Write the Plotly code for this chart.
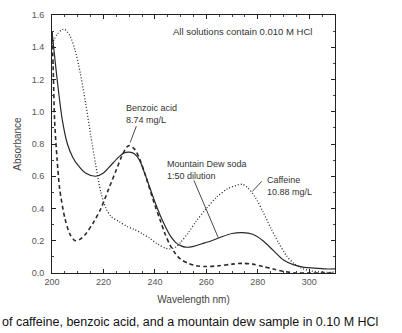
import plotly.graph_objects as go

# Wavelength (nm) / absorbance
md_wl = [200, 202, 204, 206, 208, 210, 213, 217, 220, 223, 226, 228, 230, 232, 234, 236, 238, 240, 242, 244, 246, 248, 250, 252, 255, 258, 262, 266, 270, 274, 278, 282, 286, 290, 294, 298, 302, 306, 310]
md_abs = [1.50, 1.20, 0.95, 0.80, 0.72, 0.67, 0.62, 0.60, 0.62, 0.67, 0.72, 0.745, 0.75, 0.74, 0.70, 0.62, 0.53, 0.44, 0.36, 0.29, 0.23, 0.19, 0.17, 0.16, 0.165, 0.18, 0.20, 0.225, 0.245, 0.25, 0.24, 0.20, 0.14, 0.08, 0.05, 0.035, 0.03, 0.025, 0.025]

caf_wl = [200, 202, 204, 205, 207, 209, 211, 213, 215, 217, 219, 221, 223, 226, 229, 232, 235, 238, 241, 244, 246, 248, 250, 253, 256, 260, 264, 268, 272, 274, 276, 279, 282, 285, 288, 291, 294, 297, 300, 305, 310]
caf_abs = [1.42, 1.48, 1.51, 1.51, 1.47, 1.38, 1.24, 1.06, 0.86, 0.67, 0.50, 0.40, 0.35, 0.32, 0.29, 0.27, 0.245, 0.215, 0.18, 0.155, 0.15, 0.16, 0.19, 0.25, 0.32, 0.40, 0.47, 0.52, 0.545, 0.55, 0.53, 0.47, 0.38, 0.28, 0.19, 0.11, 0.06, 0.03, 0.015, 0.005, 0.005]

bz_wl = [200, 200.5, 201, 202, 203, 205, 207, 209, 211, 213, 216, 219, 222, 225, 227, 229, 230, 232, 234, 236, 238, 240, 242, 244, 246, 248, 250, 253, 256, 260, 265, 270, 274, 278, 282, 286, 290, 295, 300, 310]
bz_abs = [1.50, 1.25, 0.95, 0.70, 0.52, 0.34, 0.24, 0.20, 0.21, 0.24, 0.31, 0.40, 0.52, 0.64, 0.72, 0.78, 0.79, 0.77, 0.71, 0.62, 0.52, 0.42, 0.33, 0.24, 0.17, 0.12, 0.085, 0.06, 0.045, 0.04, 0.045, 0.055, 0.06, 0.055, 0.04, 0.025, 0.01, 0.0, 0.0, 0.0]

x_ticks = [200, 220, 240, 260, 280, 300]
y_ticks = [0.0, 0.2, 0.4, 0.6, 0.8, 1.0, 1.2, 1.4, 1.6]
y_tick_text = ["0.0", "0.2", "0.4", "0.6", "0.8", "1.0", "1.2", "1.4", "1.6"]

FONT = "Liberation Sans, Arial, sans-serif"
LINE = "#2a2a2a"

fig = go.Figure()
fig.add_trace(go.Scatter(x=md_wl, y=md_abs, mode="lines",
                         line=dict(color=LINE, width=1.2, shape="spline", smoothing=0.8)))
fig.add_trace(go.Scatter(x=caf_wl, y=caf_abs, mode="lines",
                         line=dict(color=LINE, width=1.3, dash="1px,2px", shape="spline", smoothing=0.8)))
fig.add_trace(go.Scatter(x=bz_wl, y=bz_abs, mode="lines",
                         line=dict(color=LINE, width=1.6, dash="4px,3px", shape="spline", smoothing=0.8)))

txt = dict(family=FONT, size=9, color="#333")
anns = [
    dict(x=246.3, y=1.50, text="All solutions contain 0.010 M HCl", size=9.5),
    dict(x=228, y=0.985, text="Benzoic acid<br>8.74 mg/L", size=9),
    dict(x=244, y=0.64, text="Mountain Dew soda<br>1:50 dilution", size=9),
    dict(x=282.9, y=0.54, text="Caffeine<br>10.88 mg/L", size=9),
]
for a in anns:
    fig.add_annotation(x=a["x"], y=a["y"], text=a["text"], xref="x", yref="y",
                       xanchor="left", yanchor="middle", align="left",
                       showarrow=False, font=dict(family=FONT, size=a["size"], color="#333"))

# pointer lines
ptrs = [((233.0, 0.92), (230.4, 0.81)),
        ((254.9, 0.584), (264.6, 0.22)),
        ((282.1, 0.578), (277.8, 0.505))]
for (x0, y0), (x1, y1) in ptrs:
    fig.add_annotation(x=x1, y=y1, ax=x0, ay=y0, xref="x", yref="y", axref="x", ayref="y",
                       showarrow=True, arrowhead=0, arrowwidth=0.9, arrowcolor="#333", text="")

fig.add_annotation(x=-0.185, y=-0.19, xref="paper", yref="paper", xanchor="left", yanchor="middle",
                   text="of caffeine, benzoic acid, and a mountain dew sample in 0.10 M HCl",
                   showarrow=False, font=dict(family=FONT, size=12.5, color="#111"))

axis_common = dict(showgrid=False, zeroline=False, showline=True, linecolor="#222", linewidth=1,
                   mirror="allticks", ticks="inside", ticklen=4, tickcolor="#222",
                   tickfont=dict(family=FONT, size=9, color="#555"))
fig.update_xaxes(range=[200, 310], tickvals=x_ticks,
                 minor=dict(ticks="inside", ticklen=2, dtick=5, tickcolor="#444"),
                 title=dict(text="Wavelength nm)", font=dict(family=FONT, size=10, color="#444"), standoff=10),
                 **axis_common)
fig.update_yaxes(range=[0, 1.6], tickvals=y_ticks, ticktext=y_tick_text,
                 minor=dict(ticks="inside", ticklen=2, dtick=0.1, tickcolor="#444"),
                 ticklabelstandoff=5,
                 title=dict(text="Absorbance", font=dict(family=FONT, size=10, color="#444"), standoff=8),
                 **axis_common)

fig.update_layout(width=402, height=333, margin=dict(l=52, r=67, t=10, b=60),
                  paper_bgcolor="white", plot_bgcolor="white", showlegend=False)

fig.write_html("out.html")
